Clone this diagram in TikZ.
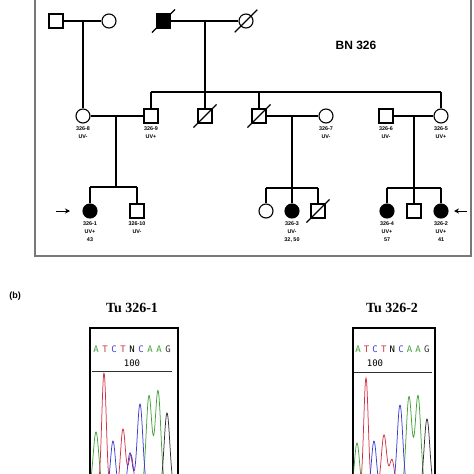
\documentclass[tikz,border=0pt]{standalone}
\usepackage{fontspec}
\setmainfont{Liberation Serif}
\newfontfamily\arialf{Liberation Sans}
\newfontfamily\monof{DejaVu Sans Mono}
\usetikzlibrary{arrows.meta,calc}
\definecolor{sg}{RGB}{70,160,60}
\definecolor{sr}{RGB}{210,50,70}
\definecolor{sb}{RGB}{60,60,210}
\definecolor{sk}{RGB}{50,50,50}
\definecolor{frm}{RGB}{120,120,120}
\begin{document}
\begin{tikzpicture}[x=1pt,y=-1pt,
  ln/.style={line width=1.1pt},
  ind/.style={draw,line width=1.1pt,minimum size=14pt,inner sep=0pt,fill=white},
  male/.style={ind,rectangle},
  female/.style={ind,circle},
  aff/.style={fill=black},
  lbl/.style={font=\arialf\bfseries\fontsize{5.4}{8}\selectfont,align=center,inner sep=0pt,anchor=north},
  seq/.style={font=\monof\fontsize{9}{10}\selectfont,inner sep=0pt},
  trace/.style={line width=0.75pt},
  chbox/.style={draw,line width=1.6pt},
  arr/.style={-{Stealth[length=5pt,width=5pt]},line width=1pt}
]
\useasboundingbox (0,0) rectangle (474,474);
% frame
\draw[frm,line width=1.2pt] (35,-5) rectangle (471,256);
\node[font=\arialf\bfseries\fontsize{12}{14}\selectfont] (bn) at (356,45) {BN 326};

% generation I
\node[male] (a1) at (56,21) {};
\node[female] (a2) at (109,21) {};
\node[male,aff] (b1) at (163.5,21) {};
\node[female] (b2) at (246,21) {};
\draw[ln] (a1) -- (a2);
\draw[ln] (b1) -- (b2);

% generation II
\node[female] (p8) at (83,116) {};
\node[male] (p9) at (151,116) {};
\node[male] (d1) at (205,116) {};
\node[male] (d2) at (259,116) {};
\node[female] (p7) at (326,116) {};
\node[male] (p6) at (386,116) {};
\node[female] (p5) at (441,116) {};

\coordinate (ja) at (83,21);
\coordinate (jb) at (205,21);
\coordinate (sb) at (205,92);
\coordinate (s9) at (151,92);
\coordinate (s1) at (205,92);
\coordinate (s2) at (259,92);
\coordinate (s5) at (441,92);
\draw[ln] (ja) -- (p8);
\draw[ln] (jb) -- (sb);
\draw[ln] (s9) -- (s5);
\draw[ln] (s9) -- (p9);
\draw[ln] (s1) -- (d1);
\draw[ln] (s2) -- (d2);
\draw[ln] (s5) -- (p5);

\draw[ln] (p8) -- (p9);
\draw[ln] (d2) -- (p7);
\draw[ln] (p6) -- (p5);

% generation III
\node[female,aff] (c1) at (90,211) {};
\node[male] (c10) at (137,211) {};
\node[female] (e1) at (266,211) {};
\node[female,aff] (c3) at (292,211) {};
\node[male] (d3) at (318,211) {};
\node[female,aff] (c4) at (387,211) {};
\node[male] (e2) at (414,211) {};
\node[female,aff] (c2) at (441,211) {};

\coordinate (m1) at (116,116);
\coordinate (m1b) at (116,187);
\coordinate (m1l) at (90,187);
\coordinate (m1r) at (137,187);
\draw[ln] (m1) -- (m1b);
\draw[ln] (m1l) -- (m1r);
\draw[ln] (m1l) -- (c1);
\draw[ln] (m1r) -- (c10);

\coordinate (m2) at (292,116);
\coordinate (m2l) at (266,188);
\coordinate (m2r) at (318,188);
\draw[ln] (m2) -- (c3);
\draw[ln] (m2l) -- (m2r);
\draw[ln] (m2l) -- (e1);
\draw[ln] (m2r) -- (d3);

\coordinate (m3) at (414,116);
\coordinate (m3l) at (387,188);
\coordinate (m3r) at (441,188);
\draw[ln] (m3) -- (e2);
\draw[ln] (m3l) -- (m3r);
\draw[ln] (m3l) -- (c4);
\draw[ln] (m3r) -- (c2);

% deceased slashes
\foreach \n in {b1,d1,d2,d3} \draw[ln] ($(\n.south west)+(-4,4)$) -- ($(\n.north east)+(4,-4)$);
\draw[ln] ($(b2.south west)+(-6,6)$) -- ($(b2.north east)+(6,-6)$);

% labels
\node[lbl] (l8) at ($(p8.south)+(0,3)$) {326-8\\UV-};
\node[lbl] (l9) at ($(p9.south)+(0,3)$) {326-9\\UV+};
\node[lbl] (l7) at ($(p7.south)+(0,3)$) {326-7\\UV-};
\node[lbl] (l6) at ($(p6.south)+(0,3)$) {326-6\\UV-};
\node[lbl] (l5) at ($(p5.south)+(0,3)$) {326-5\\UV+};
\node[lbl] (l1) at ($(c1.south)+(0,3)$) {326-1\\UV+\\43};
\node[lbl] (l10) at ($(c10.south)+(0,3)$) {326-10\\UV-};
\node[lbl] (l3) at ($(c3.south)+(0,3)$) {326-3\\UV-\\32, 50};
\node[lbl] (l4) at ($(c4.south)+(0,3)$) {326-4\\UV+\\57};
\node[lbl] (l2) at ($(c2.south)+(0,3)$) {326-2\\UV+\\41};

% proband arrows
\coordinate (pa1) at (56,211);
\coordinate (pt1) at (70,211);
\coordinate (pa2) at (467,211);
\coordinate (pt2) at (454,211);
\draw[arr] (pa1) -- (pt1);
\draw[arr] (pa2) -- (pt2);

% part (b)
\node[font=\arialf\bfseries\fontsize{9}{10}\selectfont] (bl) at (15,296) {(b)};
\node[font=\bfseries\fontsize{14}{16}\selectfont] (t1) at (132,308) {Tu 326-1};
\node[font=\bfseries\fontsize{14}{16}\selectfont] (t2) at (392,308) {Tu 326-2};

% chromatogram 1
\node[chbox,minimum width=88pt,minimum height=160pt,anchor=north west,inner sep=0pt] (ch1) at (89,327) {};
\coordinate (h1a) at (92,371);
\coordinate (h1b) at (172,371);
\draw[line width=0.8pt,sk] (h1a) -- (h1b);
\foreach \c/\col [count=\i from 0] in {A/sg,T/sr,C/sb,T/sr,N/black,C/sb,A/sg,A/sg,G/sk}
  \node[seq,text=\col] (q1\i) at (96+9*\i,349) {\ifx\c N\textbf{N}\else\c\fi};
\node[seq] (n1) at (132,363) {100};
\begin{scope}
\clip (90.5,372) rectangle (175.5,480);
\draw[trace,sg] plot[domain=90:176,samples=200,smooth] (\x,{490-58*exp(-((\x-96)/4)^2)-94*exp(-((\x-149)/4)^2)-99*exp(-((\x-158)/4)^2)});
\draw[trace,sr] plot[domain=90:176,samples=200,smooth] (\x,{490-117*exp(-((\x-104)/3.2)^2)-61*exp(-((\x-123)/3.5)^2)-35*exp(-((\x-131)/3.5)^2)});
\draw[trace,sb] plot[domain=90:176,samples=200,smooth] (\x,{490-49*exp(-((\x-113)/3.5)^2)-37*exp(-((\x-130)/3.5)^2)-86*exp(-((\x-140)/4)^2)});
\draw[trace,sk] plot[domain=90:176,samples=200,smooth] (\x,{490-77*exp(-((\x-167)/4)^2)});
\end{scope}

% chromatogram 2
\node[chbox,minimum width=82pt,minimum height=160pt,anchor=north west,inner sep=0pt] (ch2) at (352,327) {};
\coordinate (h2a) at (354,372);
\coordinate (h2b) at (432,372);
\draw[line width=0.8pt,sk] (h2a) -- (h2b);
\foreach \c/\col [count=\i from 0] in {A/sg,T/sr,C/sb,T/sr,N/black,C/sb,A/sg,A/sg,G/sk}
  \node[seq,text=\col] (q2\i) at (358+8.6*\i,349) {\ifx\c N\underline{N}\else\c\fi};
\node[seq] (n2) at (375,363) {100};
\begin{scope}
\clip (353.5,373) rectangle (432.5,480);
\draw[trace,sg] plot[domain=352:434,samples=200,smooth] (\x,{490-47*exp(-((\x-357)/3.5)^2)-93*exp(-((\x-409)/4)^2)-94*exp(-((\x-418)/4)^2)});
\draw[trace,sr] plot[domain=352:434,samples=200,smooth] (\x,{490-112*exp(-((\x-366)/3.2)^2)-55*exp(-((\x-384)/3.8)^2)-30*exp(-((\x-392)/3.5)^2)});
\draw[trace,sb] plot[domain=352:434,samples=200,smooth] (\x,{490-49*exp(-((\x-374)/3.5)^2)-85*exp(-((\x-400)/4)^2)});
\draw[trace,sk] plot[domain=352:434,samples=200,smooth] (\x,{490-71*exp(-((\x-427)/4)^2)});
\end{scope}
\end{tikzpicture}
\end{document}
